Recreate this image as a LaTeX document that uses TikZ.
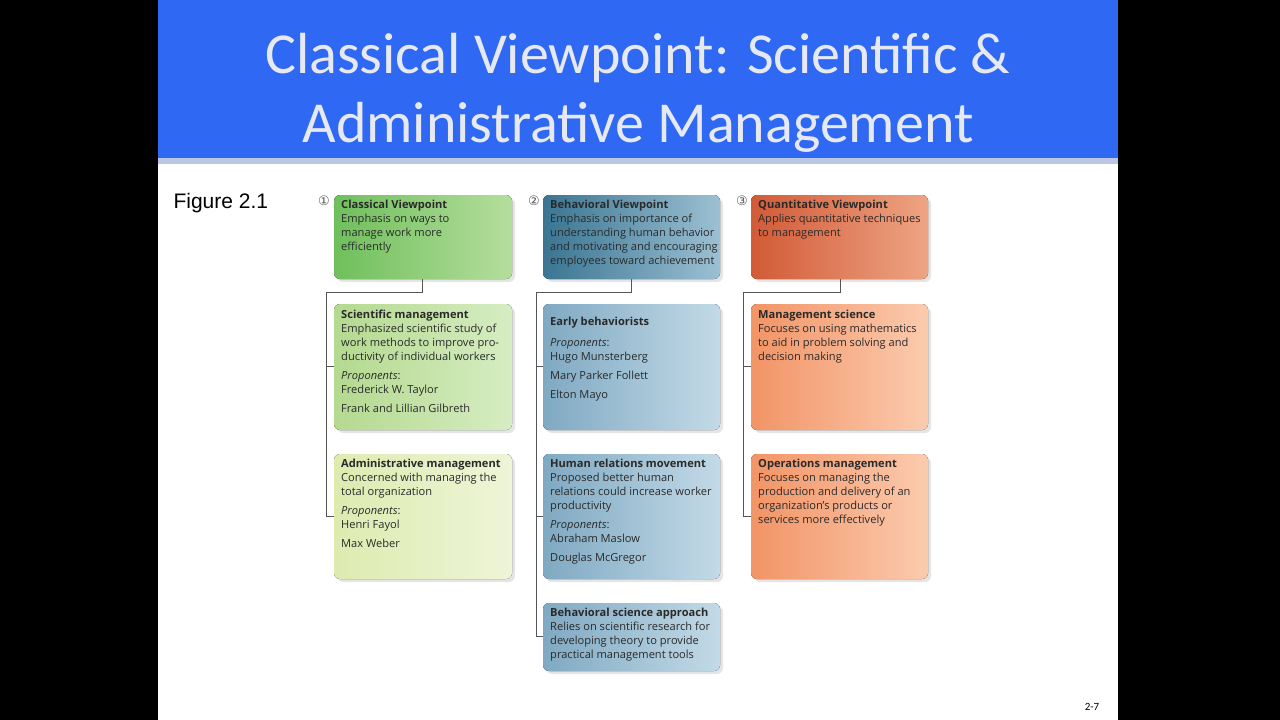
\documentclass[tikz,border=0pt]{standalone}
\usepackage{fontspec}
\setmainfont{Open Sans}
\newfontfamily\titlefont{Carlito}
\newfontfamily\figfont{Liberation Sans}
\newfontfamily\symfont{DejaVu Sans}
\usetikzlibrary{positioning,shadows}
\definecolor{slideblue}{HTML}{2F68F2}
\definecolor{titletext}{HTML}{E6E9F2}
\definecolor{gA}{HTML}{6FBF5C}\definecolor{gB}{HTML}{B5DE9C}
\definecolor{gC}{HTML}{B4D98F}\definecolor{gD}{HTML}{D6EDC2}
\definecolor{gE}{HTML}{DDEBB0}\definecolor{gF}{HTML}{EEF5D8}
\definecolor{bA}{HTML}{3A7592}\definecolor{bB}{HTML}{9CC0D3}
\definecolor{bC}{HTML}{7FA9C2}\definecolor{bD}{HTML}{C3DAE7}
\definecolor{oA}{HTML}{D25A37}\definecolor{oB}{HTML}{EEA483}
\definecolor{oC}{HTML}{F29466}\definecolor{oD}{HTML}{FBCBAE}
\definecolor{linegray}{HTML}{555555}
\definecolor{boxtext}{HTML}{2A2A2A}
\begin{document}
\begin{tikzpicture}[x=1pt,y=-1pt,
    box/.style={rounded corners=6pt, drop shadow={shadow xshift=3pt, shadow yshift=-3pt, opacity=0.2}},
    txt/.style={anchor=north west, align=left, inner sep=0pt, text=boxtext,
        font=\fontsize{11.1}{14}\selectfont},
    conn/.style={draw=linegray, line width=0.8pt},
    num/.style={font=\symfont\fontsize{13}{13}\selectfont, text=linegray}]
% background
\fill[black] (0,0) rectangle (1280,720);
\fill[white] (158,0) rectangle (1118,720);
\fill[slideblue] (158,0) rectangle (1118,158);
\fill[slideblue!70!black, opacity=0.3] (158,158) rectangle (1118,164);
\useasboundingbox (0,0) rectangle (1280,720);
\node[text=titletext, font=\titlefont\fontsize{58}{69}\selectfont, align=center] (title) at (638,93)
    {Classical Viewpoint: Scientific \&\\Administrative Management};
\node[anchor=west, font=\figfont\fontsize{21}{21}\selectfont] (fig) at (170,203) {Figure 2.1};
\node[font=\titlefont\fontsize{11}{11}\selectfont] (page) at (1092,707) {2-7};

% classical column
\node[num] (n1) at (324,201) {①};
\fill[box, left color=gA, right color=gB] (334,195) rectangle (512,279);
\node[txt] (classical) at (341,200) {\textbf{Classical Viewpoint}\\Emphasis on ways to\\manage work more\\efficiently};
\fill[box, left color=gC, right color=gD] (334,304) rectangle (512,430);
\node[txt] (scientific) at (341,310) {\textbf{Scientific management}\\Emphasized scientific study of\\work methods to improve pro-\\ductivity of individual workers\\[5pt]\textit{Proponents}:\\Frederick W. Taylor\\[5pt]Frank and Lillian Gilbreth};
\fill[box, left color=gE, right color=gF] (334,454) rectangle (512,579);
\node[txt] (admin) at (341,459) {\textbf{Administrative management}\\Concerned with managing the\\total organization\\[5pt]\textit{Proponents}:\\Henri Fayol\\[5pt]Max Weber};

% behavioral column
\node[num] (n2) at (534,201) {②};
\fill[box, left color=bA, right color=bB] (543,195) rectangle (720,279);
\node[txt] (behavioral) at (550,200) {\textbf{Behavioral Viewpoint}\\Emphasis on importance of\\understanding human behavior\\and motivating and encouraging\\employees toward achievement};
\fill[box, left color=bC, right color=bD] (543,304) rectangle (720,430);
\node[txt] (early) at (550,317) {\textbf{Early behaviorists}\\[7pt]\textit{Proponents}:\\Hugo Munsterberg\\[5pt]Mary Parker Follett\\[5pt]Elton Mayo};
\fill[box, left color=bC, right color=bD] (543,454) rectangle (720,579);
\node[txt] (human) at (550,459) {\textbf{Human relations movement}\\Proposed better human\\relations could increase worker\\productivity\\[5pt]\textit{Proponents}:\\Abraham Maslow\\[5pt]Douglas McGregor};
\fill[box, left color=bC, right color=bD] (543,603) rectangle (720,671);
\node[txt] (behsci) at (550,608) {\textbf{Behavioral science approach}\\Relies on scientific research for\\developing theory to provide\\practical management tools};

% quantitative column
\node[num] (n3) at (742,201) {③};
\fill[box, left color=oA, right color=oB] (751,195) rectangle (928,279);
\node[txt] (quant) at (758,200) {\textbf{Quantitative Viewpoint}\\Applies quantitative techniques\\to management};
\fill[box, left color=oC, right color=oD] (751,304) rectangle (928,430);
\node[txt] (mgmtsci) at (758,310) {\textbf{Management science}\\Focuses on using mathematics\\to aid in problem solving and\\decision making};
\fill[box, left color=oC, right color=oD] (751,454) rectangle (928,579);
\node[txt] (ops) at (758,459) {\textbf{Operations management}\\Focuses on managing the\\production and delivery of an\\organization's products or\\services more effectively};

% connectors
\coordinate (c1) at (422,279); \coordinate (c2) at (631,279); \coordinate (c3) at (840,279);
\draw[conn] (c1) -- (422,292) -- (326,292) -- (326,516) -- (334,516);
\draw[conn] (326,366) -- (334,366);
\draw[conn] (c2) -- (631,292) -- (536,292) -- (536,636) -- (543,636);
\draw[conn] (536,366) -- (543,366);
\draw[conn] (536,516) -- (543,516);
\draw[conn] (c3) -- (840,292) -- (743,292) -- (743,516) -- (751,516);
\draw[conn] (743,366) -- (751,366);
\end{tikzpicture}
\end{document}
